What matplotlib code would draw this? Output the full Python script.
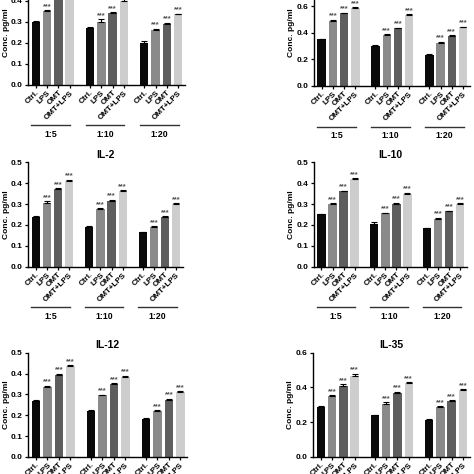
import numpy as np
import matplotlib
matplotlib.use("Agg")
import matplotlib.pyplot as plt
import matplotlib.transforms as mtransforms

plt.rcParams["font.family"] = ["Liberation Sans", "DejaVu Sans"]
plt.rcParams["font.weight"] = "bold"

conditions = ["Ctrl.", "LPS", "OMT", "OMT+LPS"]
ratios = ["1:5", "1:10", "1:20"]
bar_colors = ["#0a0a0a", "#8a8a8a", "#5e5e5e", "#cdcdcd"]

# values per ratio group (Ctrl., LPS, OMT, OMT+LPS)
top_left_vals = [[0.30, 0.35, 0.44, 0.47],
                 [0.27, 0.30, 0.34, 0.40],
                 [0.20, 0.26, 0.29, 0.335]]
top_left_err = [[0.003, 0.004, 0.006, 0.006],
                [0.003, 0.012, 0.006, 0.006],
                [0.006, 0.007, 0.006, 0.004]]

top_right_vals = [[0.35, 0.49, 0.545, 0.585],
                  [0.30, 0.38, 0.435, 0.53],
                  [0.235, 0.325, 0.375, 0.44]]
top_right_err = [[0.004, 0.008, 0.005, 0.008],
                 [0.004, 0.008, 0.004, 0.008],
                 [0.003, 0.006, 0.005, 0.005]]

il2_vals = [[0.24, 0.305, 0.37, 0.41],
            [0.19, 0.275, 0.315, 0.36],
            [0.165, 0.19, 0.24, 0.30]]
il2_err = [[0.004, 0.008, 0.006, 0.006],
           [0.003, 0.005, 0.005, 0.005],
           [0.002, 0.004, 0.003, 0.004]]

il10_vals = [[0.25, 0.30, 0.36, 0.42],
             [0.205, 0.255, 0.30, 0.35],
             [0.185, 0.23, 0.265, 0.30]]
il10_err = [[0.003, 0.005, 0.004, 0.004],
            [0.007, 0.004, 0.007, 0.004],
            [0.002, 0.004, 0.004, 0.004]]

il12_vals = [[0.27, 0.335, 0.395, 0.435],
             [0.22, 0.295, 0.35, 0.385],
             [0.18, 0.22, 0.275, 0.31]]
il12_err = [[0.005, 0.007, 0.004, 0.006],
            [0.005, 0.004, 0.003, 0.004],
            [0.006, 0.004, 0.005, 0.004]]

il35_vals = [[0.29, 0.35, 0.41, 0.465],
             [0.24, 0.305, 0.37, 0.425],
             [0.215, 0.285, 0.32, 0.385]]
il35_err = [[0.004, 0.005, 0.008, 0.015],
            [0.003, 0.01, 0.005, 0.006],
            [0.006, 0.008, 0.005, 0.005]]

panels = [
    # title, values, errors, ymax, ystep, [left, bottom, width, height]
    ("", top_left_vals, top_left_err, 0.5, 0.1, [0.059, 0.821, 0.331, 0.222]),
    ("", top_right_vals, top_right_err, 0.8, 0.2, [0.662, 0.819, 0.329, 0.224]),
    ("IL-2", il2_vals, il2_err, 0.5, 0.1, [0.059, 0.437, 0.327, 0.221]),
    ("IL-10", il10_vals, il10_err, 0.5, 0.1, [0.662, 0.437, 0.323, 0.221]),
    ("IL-12", il12_vals, il12_err, 0.5, 0.1, [0.059, 0.036, 0.336, 0.220]),
    ("IL-35", il35_vals, il35_err, 0.6, 0.2, [0.660, 0.036, 0.331, 0.220]),
]

group_pitch = 4.8
bar_w = 0.75

fig = plt.figure(figsize=(4.74, 4.74), dpi=100)

for title, vals, errs, ymax, ystep, pos in panels:
    ax = fig.add_axes(pos)
    xs = []
    labels = []
    for g in range(len(ratios)):
        for i in range(len(conditions)):
            x = g * group_pitch + i
            v = vals[g][i]
            e = errs[g][i]
            ax.bar(x, v, width=bar_w, color=bar_colors[i], zorder=2)
            ax.errorbar(x, v, yerr=[[0], [e]], fmt="none", ecolor="black",
                        elinewidth=0.8, capsize=2, capthick=0.8, zorder=3)
            if i > 0:
                ax.text(x, v + e + ymax * 0.002, "***", ha="center", va="bottom",
                        fontsize=5.3, color="#505050", fontweight="bold")
            xs.append(x)
            labels.append(conditions[i])
        # group underline and label
        trans = mtransforms.blended_transform_factory(ax.transData, ax.transAxes)
        x0 = g * group_pitch - 0.4
        x1 = g * group_pitch + 3.05
        ax.plot([x0, x1], [-0.385, -0.385], color="#333333", lw=1.0,
                transform=trans, clip_on=False)
        ax.text((x0 + x1) / 2, -0.43, ratios[g], transform=trans, ha="center",
                va="top", fontsize=6.3, fontweight="bold")

    ax.set_xlim(-0.7, 13.2)
    ax.set_ylim(0, ymax)
    ticks = np.arange(0, ymax + 1e-9, ystep)
    ax.set_yticks(ticks)
    ax.set_yticklabels(["%.1f" % t for t in ticks], fontsize=6, fontweight="bold")
    ax.set_xticks(xs)
    ax.set_xticklabels(labels, rotation=45, ha="right", rotation_mode="anchor",
                       fontsize=5.8, fontweight="bold")
    ax.tick_params(axis="both", length=2.5, width=0.9, pad=1.2)
    ax.tick_params(axis="x", length=2)
    for side in ["top", "right"]:
        ax.spines[side].set_visible(False)
    for side in ["left", "bottom"]:
        ax.spines[side].set_linewidth(1.0)
    ax.set_ylabel("Conc. pg/ml", fontsize=6, fontweight="bold", labelpad=1)
    if title:
        ax.set_title(title, fontsize=7.5, fontweight="bold", pad=3)

fig.savefig("out.png", dpi=100)
